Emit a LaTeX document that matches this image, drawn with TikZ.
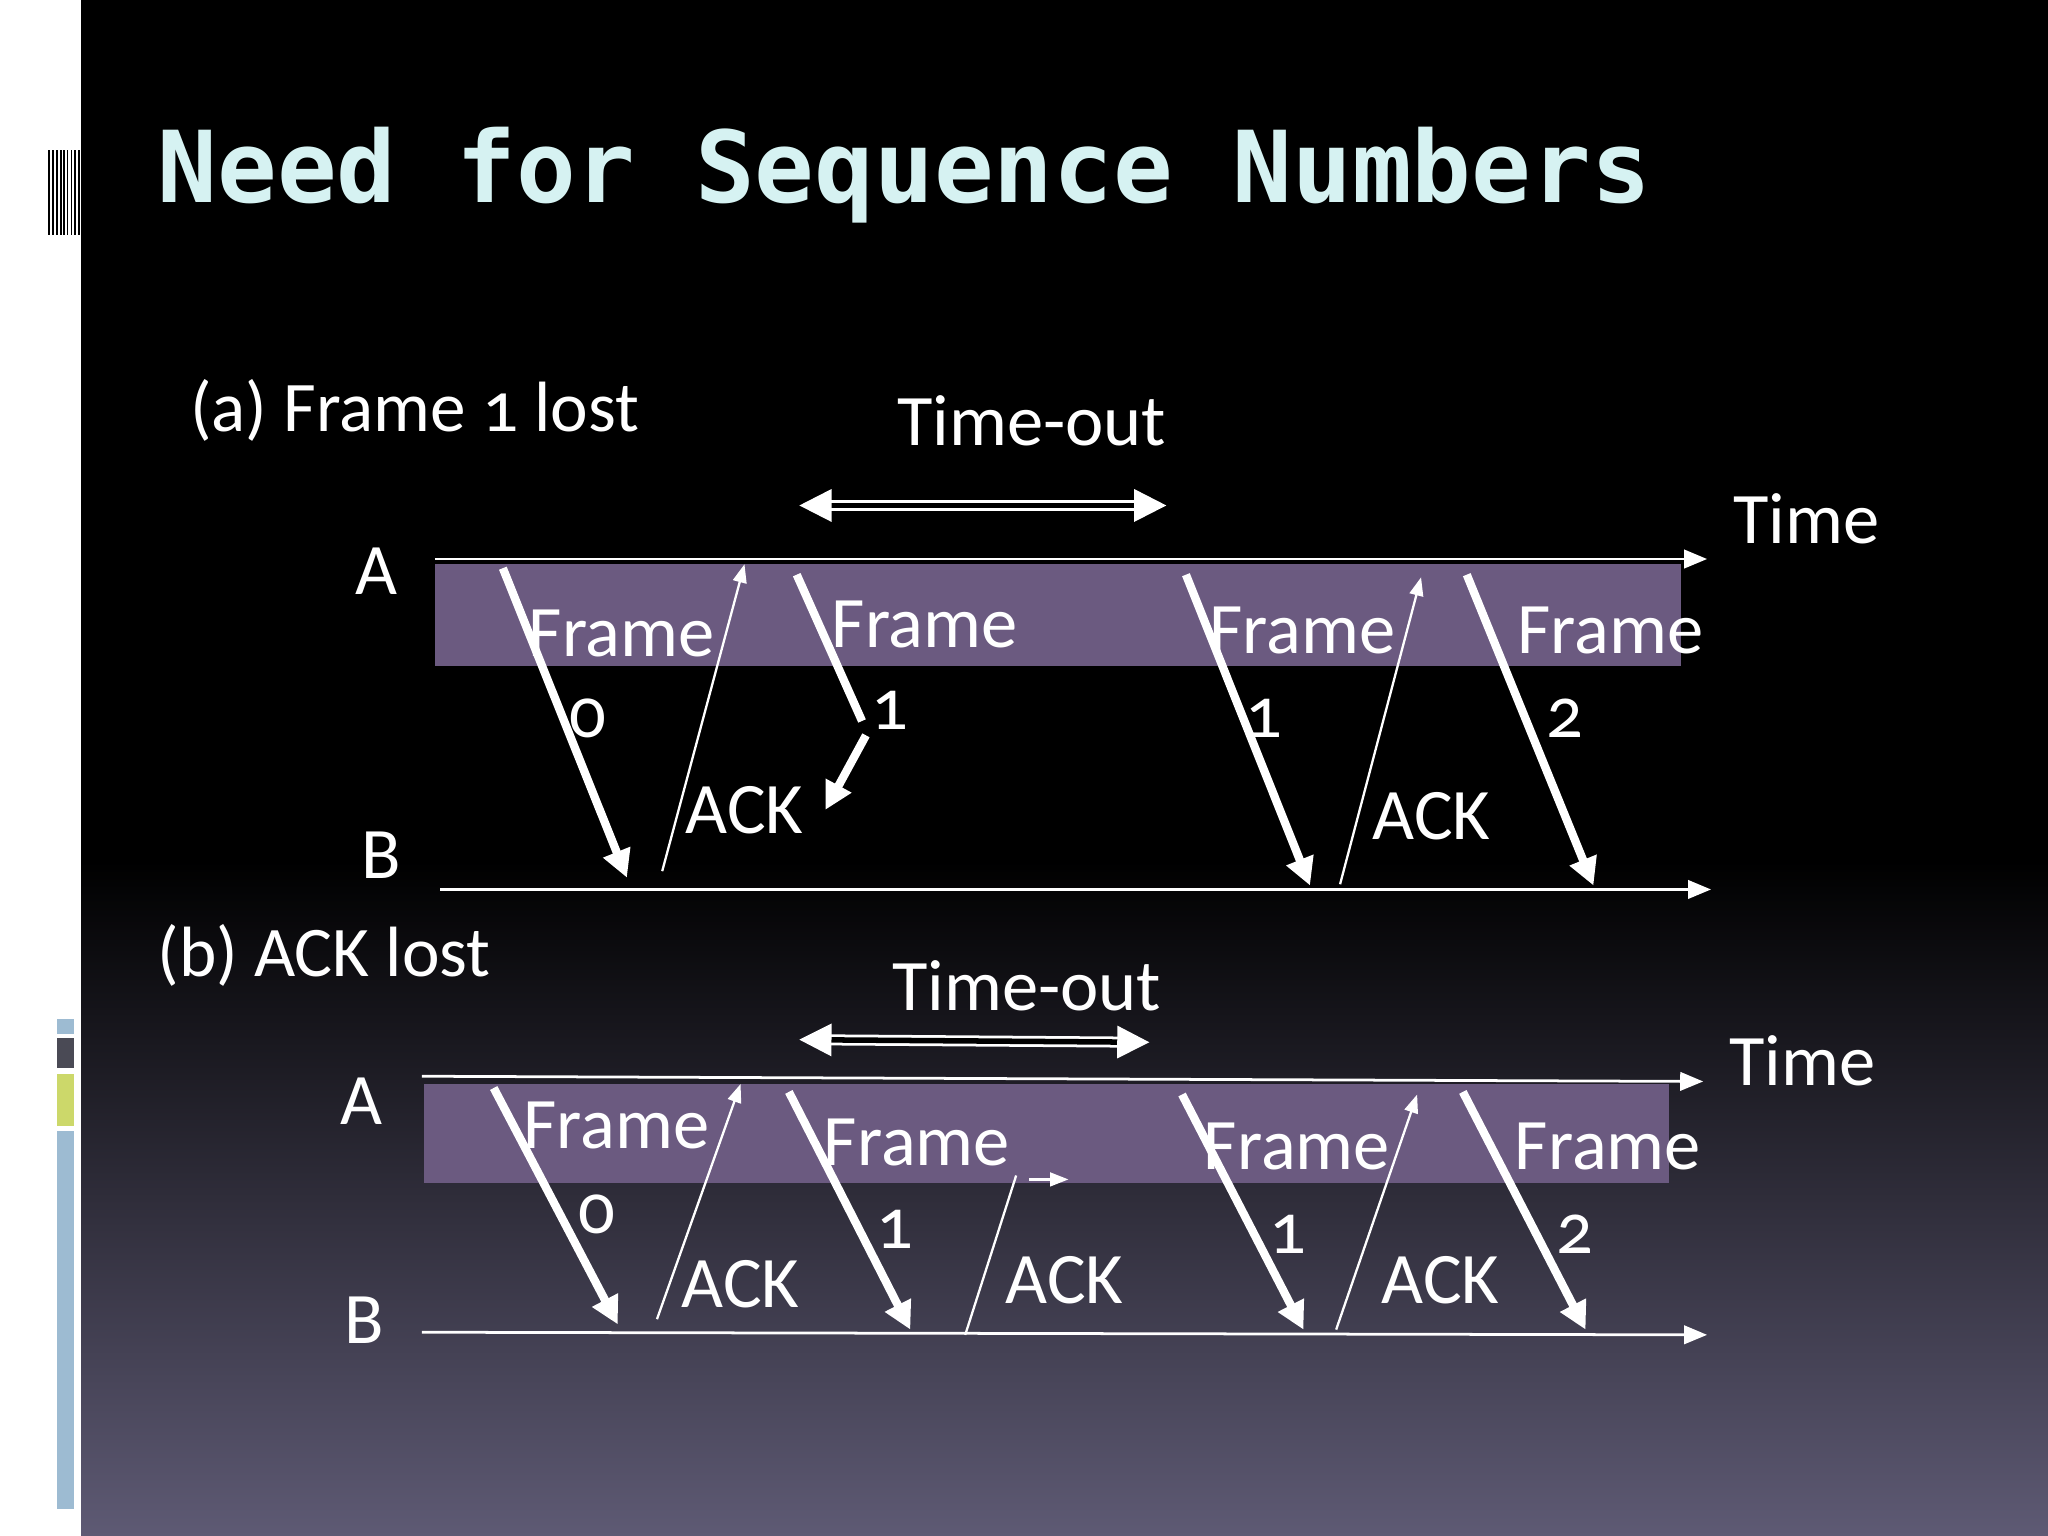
\documentclass[tikz,border=0pt]{standalone}
\usepackage{fontspec}
\setmainfont{Carlito}[Numbers=OldStyle]
\newfontfamily\titlefont{DejaVu Sans Mono}
\usetikzlibrary{arrows.meta,positioning}
\definecolor{titlecyan}{HTML}{D6F2F2}
\definecolor{bandpurple}{HTML}{6B5A80}
\definecolor{bottomgray}{HTML}{5E5A74}
\definecolor{barblue}{HTML}{9DBBD2}
\definecolor{bargreen}{HTML}{CCD86A}
\definecolor{bargray}{HTML}{4A4A55}
\tikzset{
  lbl/.style={text=white, font=\fontsize{15.8}{18}\selectfont, inner sep=0pt},
  captxt/.style={text=white, font=\fontsize{15.5}{18}\selectfont, inner sep=0pt, anchor=base west},
  frm/.style={white, line width=1.8pt, -{Triangle[length=6pt,width=6pt]}},
  ack/.style={white, line width=0.5pt, -{Triangle[length=4pt,width=3pt]}},
  axis/.style={white, line width=0.6pt, -{Triangle[length=5pt,width=4pt]}},
  tout/.style={white, double=black, double distance=1.2pt, line width=0.6pt,
    {Triangle[length=7pt,width=7pt]}-{Triangle[length=7pt,width=7pt]}},
  band/.style={fill=bandpurple, draw=none}
}
\begin{document}
\begin{tikzpicture}[x=0.01cm, y=-0.01cm]
\useasboundingbox (0,0) rectangle (1568,1176);
% background
\fill[black] (62,0) rectangle (1568,660);
\shade[top color=black, bottom color=bottomgray] (62,659) rectangle (1568,1176);
\fill[white] (0,0) rectangle (62,1176);
\foreach \x in {37,40,43,46,48,51,54,57,60}
  \fill[black] (\x,115) rectangle (\x+1.4,180);
\fill[barblue] (44,780) rectangle (57,792);
\fill[bargray] (44,795) rectangle (57,818);
\fill[bargreen] (44,822) rectangle (57,862);
\fill[barblue] (44,866) rectangle (57,1155);
% title
\node (title) [anchor=base west, text=titlecyan, inner sep=0pt,
  font=\titlefont\bfseries\fontsize{21.6}{24}\selectfont] at (120,155) {Need for Sequence Numbers};

% (a) frame 1 lost
\node (capa) [captxt] at (145,330) {(a)\ Frame 1 lost};
\node (touta) [lbl] at (790,322) {Time-out};
\coordinate (tal) at (612,387); \coordinate (tar) at (893,387);
\draw[tout] (tal) -- (tar);
\fill[band] (333,432) rectangle (1287,510);
\coordinate (a0) at (333,428); \coordinate (a1) at (1307,428);
\coordinate (b0) at (337,681); \coordinate (b1) at (1310,681);
\draw[axis] (a0) -- (a1);
\draw[axis] (b0) -- (b1);
\node (Aa) [lbl] at (288,437) {A};
\node (Ba) [lbl] at (292,655) {B};
\node (timea) [lbl] at (1383,397) {Time};
\node (fa1) [lbl] at (476,485) {Frame}; \node (na1) [lbl] at (450,550) {0};
\node (fa2) [lbl] at (708,478) {Frame}; \node (na2) [lbl] at (681,544) {1};
\node (fa3) [lbl] at (997,483) {Frame}; \node (na3) [lbl] at (968,550) {1};
\node (fa4) [lbl] at (1233,483) {Frame}; \node (na4) [lbl] at (1198,550) {2};
\node (aa1) [lbl] at (570,620) {ACK};
\node (aa2) [lbl] at (1096,625) {ACK};
\coordinate (s1) at (385,435); \coordinate (e1) at (480,672);
\coordinate (s2) at (610,440); \coordinate (e2) at (660,552);
\coordinate (s2b) at (663,563); \coordinate (e2b) at (632,620);
\coordinate (s3) at (908,440); \coordinate (e3) at (1003,678);
\coordinate (s4) at (1123,440); \coordinate (e4) at (1220,678);
\coordinate (k1) at (507,667); \coordinate (l1) at (570,432);
\coordinate (k2) at (1026,677); \coordinate (l2) at (1088,442);
\draw[frm] (s1) -- (e1);
\draw[white, line width=1.8pt] (s2) -- (e2);
\draw[frm] (s2b) -- (e2b);
\draw[frm] (s3) -- (e3);
\draw[frm] (s4) -- (e4);
\draw[ack] (k1) -- (l1);
\draw[ack] (k2) -- (l2);

% (b) ACK lost
\node (capb) [captxt] at (120,748) {(b)\ ACK lost};
\node (toutb) [lbl] at (786,755) {Time-out};
\coordinate (tbl) at (612,796); \coordinate (tbr) at (880,798);
\draw[tout] (tbl) -- (tbr);
\fill[band] (325,830) rectangle (1278,906);
\coordinate (c0) at (323,824); \coordinate (c1) at (1304,828);
\coordinate (d0) at (323,1020); \coordinate (d1) at (1307,1022);
\draw[axis] (c0) -- (c1);
\draw[axis] (d0) -- (d1);
\node (Ab) [lbl] at (277,843) {A};
\node (Bb) [lbl] at (279,1011) {B};
\node (timeb) [lbl] at (1380,812) {Time};
\node (fb1) [lbl] at (472,862) {Frame}; \node (nb1) [lbl] at (457,930) {0};
\node (fb2) [lbl] at (702,875) {Frame}; \node (nb2) [lbl] at (685,941) {1};
\node (fb3) [lbl] at (993,878) {Frame}; \node (nb3) [lbl] at (986,945) {1};
\node (fb4) [lbl] at (1231,878) {Frame}; \node (nb4) [lbl] at (1206,945) {2};
\node (ab1) [lbl] at (567,983) {ACK};
\node (ab2) [lbl] at (815,980) {ACK};
\node (ab3) [lbl] at (1103,980) {ACK};
\coordinate (t1) at (378,833); \coordinate (u1) at (473,1014);
\coordinate (t2) at (604,836); \coordinate (u2) at (697,1018);
\coordinate (t3) at (905,838); \coordinate (u3) at (998,1018);
\coordinate (t4) at (1120,836); \coordinate (u4) at (1214,1018);
\coordinate (m1) at (503,1010); \coordinate (n1) at (567,830);
\coordinate (m2) at (739,1022); \coordinate (n2) at (778,900);
\coordinate (m2b) at (788,903); \coordinate (n2b) at (818,903);
\coordinate (m3) at (1023,1018); \coordinate (n3) at (1085,838);
\draw[frm] (t1) -- (u1);
\draw[frm] (t2) -- (u2);
\draw[frm] (t3) -- (u3);
\draw[frm] (t4) -- (u4);
\draw[ack] (m1) -- (n1);
\draw[white, line width=0.5pt] (m2) -- (n2);
\draw[ack] (m2b) -- (n2b);
\draw[ack] (m3) -- (n3);
\end{tikzpicture}
\end{document}
